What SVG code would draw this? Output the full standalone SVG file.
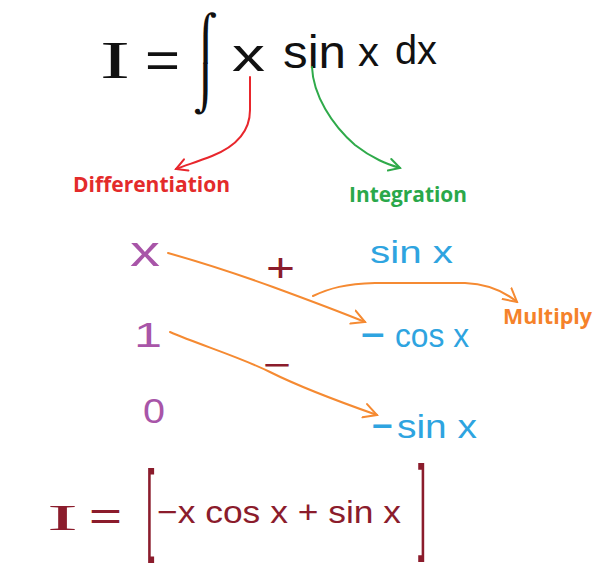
<svg xmlns="http://www.w3.org/2000/svg" width="599" height="580" viewBox="0 0 599 580">
<style>
.hw{font-family:"Liberation Sans","DejaVu Sans",sans-serif;}
.serif{font-family:"Liberation Serif","DejaVu Serif",serif;}
.lbl{font-family:"Open Sans","Liberation Sans",sans-serif;font-weight:bold;}
.k{fill:#111;}
.m{fill:#8b1c2c;}
.b{fill:#2ea4e0;}
.p{fill:#a855a8;}
.conn{fill:none;stroke-width:2;stroke-linecap:round;stroke-linejoin:round;}
</style>
<defs>
<marker id="ar" viewBox="-12 -8 14 16" markerWidth="14" markerHeight="16" refX="0" refY="0" orient="auto" markerUnits="userSpaceOnUse">
<path d="M-11,-6 L0,0 L-11,6" fill="none" stroke="#e8262c" stroke-width="2" stroke-linecap="round"/>
</marker>
<marker id="ag" viewBox="-12 -8 14 16" markerWidth="14" markerHeight="16" refX="0" refY="0" orient="auto" markerUnits="userSpaceOnUse">
<path d="M-11,-6 L0,0 L-11,6" fill="none" stroke="#2faa4a" stroke-width="2" stroke-linecap="round"/>
</marker>
<marker id="ao" viewBox="-14 -9 16 18" markerWidth="16" markerHeight="18" refX="0" refY="0" orient="auto" markerUnits="userSpaceOnUse">
<path d="M-13,-7 L0,0 L-13,7" fill="none" stroke="#f58a32" stroke-width="2" stroke-linecap="round"/>
</marker>
</defs>
<rect width="599" height="580" fill="#fff"/>

<g id="integral-top">
<text class="serif k" x="100" y="78" font-size="52" textLength="30" lengthAdjust="spacingAndGlyphs">I</text>
<text class="hw k" x="145" y="78" font-size="52" textLength="35" lengthAdjust="spacingAndGlyphs">=</text>
<text class="k" font-family="DejaVu Sans, sans-serif" font-size="44" x="194" y="53">⌠</text>
<text class="k" font-family="DejaVu Sans, sans-serif" font-size="44" x="194" y="104">⌡</text>
<text class="hw k" x="232" y="71" font-size="46" textLength="33" lengthAdjust="spacingAndGlyphs">x</text>
<text class="hw k" x="283" y="68" font-size="46" textLength="63" lengthAdjust="spacingAndGlyphs">sin</text>
<text class="hw k" x="358" y="66" font-size="40" textLength="21" lengthAdjust="spacingAndGlyphs">x</text>
<text class="hw k" x="395" y="64" font-size="40" textLength="42" lengthAdjust="spacingAndGlyphs">dx</text>
</g>

<g id="label-differentiation">
<text class="lbl" x="73" y="192" font-size="21" fill="#e32b2b" textLength="157" lengthAdjust="spacingAndGlyphs">Differentiation</text>
</g>
<g id="label-integration">
<text class="lbl" x="349" y="202" font-size="21" fill="#2aa84a" textLength="118" lengthAdjust="spacingAndGlyphs">Integration</text>
</g>

<g id="col-diff">
<text class="hw p" x="130" y="266" font-size="42" textLength="30" lengthAdjust="spacingAndGlyphs">x</text>
<text class="hw p" x="134" y="347" font-size="35" textLength="28" lengthAdjust="spacingAndGlyphs">1</text>
<text class="hw p" x="143" y="423" font-size="35" textLength="22" lengthAdjust="spacingAndGlyphs">0</text>
</g>

<g id="col-int">
<text class="hw b" x="370" y="263" font-size="31" textLength="83" lengthAdjust="spacingAndGlyphs">sin x</text>
<text class="hw b" x="361" y="345" font-size="30" font-weight="bold" textLength="24" lengthAdjust="spacingAndGlyphs">−</text>
<text class="hw b" x="395" y="347" font-size="34" textLength="74" lengthAdjust="spacingAndGlyphs">cos x</text>
<text class="hw b" x="372" y="436" font-size="30" font-weight="bold" textLength="21" lengthAdjust="spacingAndGlyphs">−</text>
<text class="hw b" x="397" y="438" font-size="33" textLength="80" lengthAdjust="spacingAndGlyphs">sin x</text>
</g>

<g id="signs">
<text class="hw m" x="266" y="282" font-size="40" textLength="29" lengthAdjust="spacingAndGlyphs">+</text>
<text class="hw m" x="263" y="377" font-size="36" textLength="28" lengthAdjust="spacingAndGlyphs">−</text>
</g>

<g id="label-multiply">
<text class="lbl" x="503" y="324" font-size="21" fill="#f5822a" textLength="89" lengthAdjust="spacingAndGlyphs">Multiply</text>
</g>

<g id="result">
<text class="serif m" x="47" y="530" font-size="35" textLength="31" lengthAdjust="spacingAndGlyphs">I</text>
<text class="hw m" x="89" y="530" font-size="40" textLength="33" lengthAdjust="spacingAndGlyphs">=</text>
<text class="hw m" font-size="30" transform="translate(146,542) scale(1,3.4)">[</text>
<text class="hw m" x="157" y="523" font-size="32" textLength="244" lengthAdjust="spacingAndGlyphs">−x cos x + sin x</text>
<text class="hw m" font-size="30" transform="translate(418,540) scale(1,3.5)">]</text>
</g>

<g id="connectors">
<path class="conn" stroke="#e8262c" d="M250,77 L250,110 C250,135 232,148 212,156 C197,162 186,165 176,169" marker-end="url(#ar)"/>
<path class="conn" stroke="#2faa4a" d="M312,67 C313,95 332,125 355,145 C373,159 387,164 400,168" marker-end="url(#ag)"/>
<path class="conn" stroke="#f58a32" d="M168,253 C200,262 240,275 273,287 C303,298 333,309 365,322" marker-end="url(#ao)"/>
<path class="conn" stroke="#f58a32" d="M313,296 C330,288 345,284 375,283 L465,283 C490,284 505,292 517,302" marker-end="url(#ao)"/>
<path class="conn" stroke="#f58a32" d="M170,332 C200,345 240,357 270,372 C300,387 340,402 377,415" marker-end="url(#ao)"/>
</g>
</svg>
